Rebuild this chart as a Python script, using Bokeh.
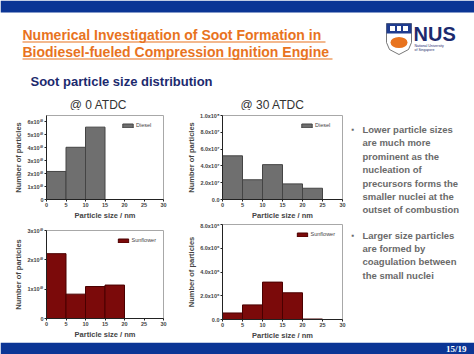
from bokeh.plotting import figure
from bokeh.layouts import column, row
from bokeh.models import Range1d, FixedTicker
from bokeh.core.properties import value
from bokeh.embed import file_html
from bokeh.resources import INLINE

# ---------------- data ----------------
size_ticks = [0, 5, 10, 15, 20, 25, 30]

diesel_0_edges = [0, 5, 10, 15]
diesel_0_counts = [2.17e10, 4.04e10, 5.6e10]
diesel_0_yticks = [0, 1e10, 2e10, 3e10, 4e10, 5e10, 6e10]
diesel_0_ylabels = ["0", "1x10¹⁰", "2x10¹⁰", "3x10¹⁰", "4x10¹⁰", "5x10¹⁰", "6x10¹⁰"]

diesel_30_edges = [0, 5, 10, 15, 20, 25]
diesel_30_counts = [5.2e7, 2.35e7, 4.15e7, 1.86e7, 1.34e7]
diesel_30_yticks = [0, 2e7, 4e7, 6e7, 8e7, 1e8]
diesel_30_ylabels = ["0.0", "2.0x10⁷", "4.0x10⁷", "6.0x10⁷", "8.0x10⁷", "1.0x10⁸"]

sun_0_edges = [0, 5, 10, 15, 20]
sun_0_counts = [2.21e10, 0.83e10, 1.09e10, 1.14e10]
sun_0_yticks = [0, 1e10, 2e10, 3e10]
sun_0_ylabels = ["0", "1x10¹⁰", "2x10¹⁰", "3x10¹⁰"]

sun_30_edges = [0, 5, 10, 15, 20, 25]
sun_30_counts = [0.55e6, 1.23e6, 3.15e6, 2.25e6, 0.04e6]
sun_30_yticks = [0, 2e6, 4e6, 6e6, 8e6]
sun_30_ylabels = ["0.0", "2.0x10⁶", "4.0x10⁶", "6.0x10⁶", "8.0x10⁶"]

title_lines = ["Numerical Investigation of Soot Formation in",
               "Biodiesel-fueled Compression Ignition Engine"]
subtitle = "Soot particle size distribution"
panel_titles = ["@ 0 ATDC", "@ 30 ATDC"]
bullet1 = ["Lower particle sizes", "are much more", "prominent as the",
           "nucleation of", "precursors forms the", "smaller nuclei at the",
           "outset of combustion"]
bullet2 = ["Larger size particles", "are formed by",
           "coagulation between", "the small nuclei"]

FONT = "Liberation Sans"
NAVY = "#0b3595"


def blank(w, h):
    p = figure(width=w, height=h, x_range=Range1d(0, w), y_range=Range1d(h, 0),
               output_backend="svg", toolbar_location=None,
               x_axis_type=None, y_axis_type=None, min_border=0)
    p.grid.visible = False
    p.outline_line_color = None
    return p


def hist(edges, counts, ymax, yticks, ylabels, fill, line, legend,
         w, h, left, right, top, bottom):
    p = figure(width=w, height=h, x_range=Range1d(0, 30), y_range=Range1d(0, ymax),
               output_backend="svg", toolbar_location=None,
               min_border_left=left, min_border_right=right,
               min_border_top=top, min_border_bottom=bottom)
    p.quad(left=edges[:-1], right=edges[1:], top=counts, bottom=0,
           fill_color=fill, line_color=line, line_width=1, legend_label=legend)
    p.grid.visible = False
    p.outline_line_color = "#a8a8a8"
    for ax in (p.xaxis[0], p.yaxis[0]):
        ax.major_label_text_font = FONT
        ax.major_label_text_font_size = "5.5px"
        ax.major_label_text_font_style = "bold"
        ax.axis_label_text_font = FONT
        ax.axis_label_text_font_size = "7.5px"
        ax.axis_label_text_font_style = "bold"
        ax.major_tick_out = 2
        ax.major_tick_in = 0
        ax.minor_tick_line_color = None
        ax.major_label_standoff = 1
        ax.axis_label_standoff = 1
        ax.axis_line_color = "#222222"
        ax.major_tick_line_color = "#222222"
    p.xaxis[0].ticker = FixedTicker(ticks=size_ticks)
    p.xaxis[0].axis_label = "Particle size / nm"
    p.yaxis[0].ticker = FixedTicker(ticks=yticks)
    p.yaxis[0].major_label_overrides = {t: l for t, l in zip(yticks, ylabels)}
    p.yaxis[0].axis_label = "Number of particles"
    lg = p.legend[0]
    lg.location = "top_right"
    lg.label_text_font = FONT
    lg.label_text_font_size = "5.5px"
    lg.glyph_width = 13
    lg.glyph_height = 5
    lg.label_height = 5
    lg.label_standoff = 2
    lg.padding = 1
    lg.margin = 6
    lg.spacing = 0
    lg.border_line_alpha = 0
    lg.background_fill_alpha = 0
    return p


# ---------------- header ----------------
hdr = blank(474, 110)
hdr.rect(x=[237], y=[6], width=[474], height=[12], fill_color=NAVY, line_color=None)
hdr.text(x=[22, 22], y=[34, 51], text=title_lines, text_font=value(FONT),
         text_font_size="14px", text_font_style="bold", text_color="#e8731e",
         text_baseline="middle", text_align="left")
hdr.segment(x0=[22, 22], y0=[41.5, 58.5], x1=[325, 332], y1=[41.5, 58.5],
            line_color="#e8731e", line_width=1.2)
hdr.text(x=[30], y=[81], text=[subtitle], text_font=value(FONT),
         text_font_size="13px", text_font_style="bold", text_color="#1c2a6e",
         text_baseline="middle", text_align="left")
hdr.text(x=[98, 272], y=[104, 104], text=panel_titles, text_font=value(FONT),
         text_font_size="12px", text_color="#333333",
         text_baseline="middle", text_align="center")
# NUS logo
hdr.patch(x=[386, 411, 411, 408, 398.5, 389, 386],
          y=[23, 23, 42, 49, 54, 49, 42], fill_color="white", line_color="#555555", line_width=0.8)
hdr.rect(x=[398.5], y=[28], width=[25], height=[10], fill_color="#1f3c8f", line_color=None)
hdr.rect(x=[392, 398.5, 405], y=[28, 28, 28], width=[5, 4, 5], height=[5, 5, 5],
         fill_color="white", line_color=None)
hdr.ellipse(x=[398.5], y=[42], width=[17], height=[11], fill_color="#e8731e", line_color=None)
hdr.text(x=[413], y=[33], text=["NUS"], text_font=value(FONT), text_font_size="20px",
         text_font_style="bold", text_color="#1c2a6e", text_baseline="middle", text_align="left")
hdr.text(x=[414, 414], y=[45, 49], text=["National University", "of Singapore"],
         text_font=value(FONT), text_font_size="3.5px", text_color="#1c2a6e",
         text_baseline="middle", text_align="left")

# ---------------- charts ----------------
c1 = hist(diesel_0_edges, diesel_0_counts, 6.5e10, diesel_0_yticks, diesel_0_ylabels,
          "#6f6f6f", "#444444", "Diesel", 182, 112, 46, 16, 5, 18)
c3 = hist(sun_0_edges, sun_0_counts, 3e10, sun_0_yticks, sun_0_ylabels,
          "#7b0a0a", "#4a0000", "Sunflower", 182, 120, 44, 19, 8, 24)
c2 = hist(diesel_30_edges, diesel_30_counts, 1e8, diesel_30_yticks, diesel_30_ylabels,
          "#6f6f6f", "#444444", "Diesel", 164, 112, 40, 4, 5, 18)
c4 = hist(sun_30_edges, sun_30_counts, 8e6, sun_30_yticks, sun_30_ylabels,
          "#7b0a0a", "#4a0000", "Sunflower", 164, 120, 36, 4, 2, 22)

# ---------------- bullet text ----------------
txt = blank(128, 232)
y1 = [19 + 13.4 * i for i in range(len(bullet1))]
y2 = [124.5 + 13.4 * i for i in range(len(bullet2))]
txt.text(x=[16] * (len(bullet1) + len(bullet2)), y=y1 + y2, text=bullet1 + bullet2,
         text_font=value(FONT), text_font_size="9.5px", text_font_style="bold",
         text_color="#6a6a6a", text_baseline="middle", text_align="left")
txt.text(x=[5, 5], y=[y1[0], y2[0]], text=["▪", "▪"], text_font=value(FONT),
         text_font_size="8px", text_color="#6a6a6a", text_baseline="middle", text_align="left")

# ---------------- footer ----------------
ftr = blank(474, 12)
ftr.rect(x=[237], y=[6], width=[474], height=[12], fill_color=NAVY, line_color=None)
ftr.text(x=[466], y=[6.5], text=["15/19"], text_font=value("Liberation Serif"),
         text_font_size="9px", text_font_style="bold", text_color="white",
         text_baseline="middle", text_align="right")

layout = column(hdr, row(column(c1, c3, spacing=0), column(c2, c4, spacing=0), txt, spacing=0),
                ftr, spacing=0)

open("out.html", "w").write(file_html(layout, INLINE))
